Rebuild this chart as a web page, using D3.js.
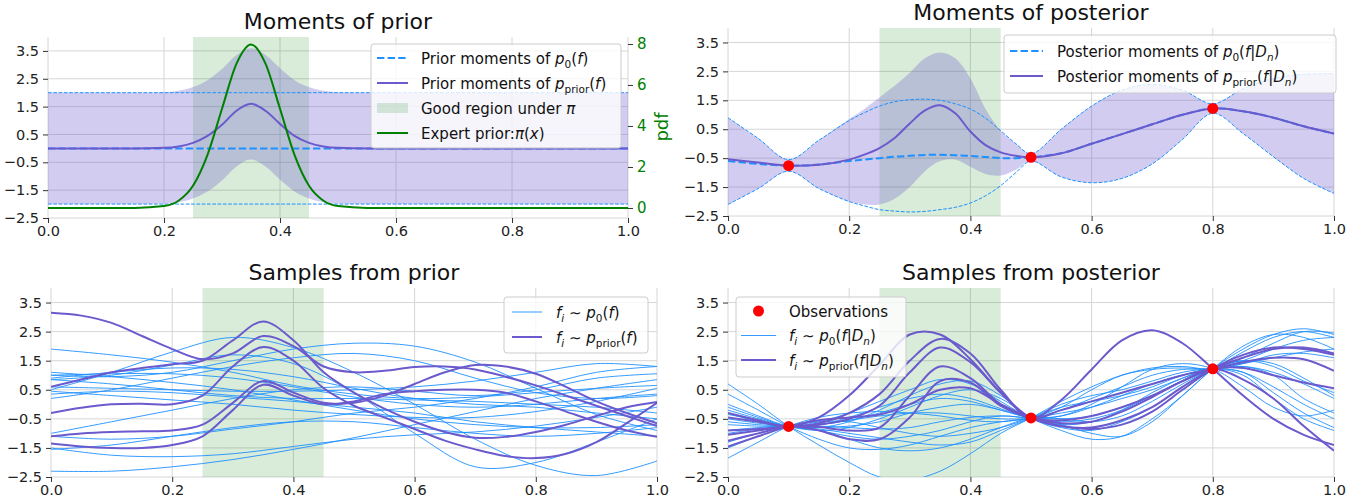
<!DOCTYPE html>
<html>
<head>
<meta charset="utf-8">
<script src="https://cdn.jsdelivr.net/npm/d3@7.9.0/dist/d3.min.js"></script>
<style>
  body { margin: 0; background: #fff; }
  svg { font-family: "DejaVu Sans", sans-serif; }
  text { white-space: pre; }
</style>
</head>
<body>
<svg id="chart" width="1349" height="499"></svg>
<script>
// ---- data ----
const xTicks = [0, 0.2, 0.4, 0.6, 0.8, 1.0];
const yTicks = [-2.5, -1.5, -0.5, 0.5, 1.5, 2.5, 3.5];
const pdfTicks = [0, 2, 4, 6, 8];
const goodRegion = [0.25, 0.45];
const obsX = [0.1, 0.5, 0.8];
const obsY = [-0.76, -0.47, 1.22];

// moments of prior
const p0X = [0, 1];
const p0Mean = [0, 0];
const p0Upper = [2, 2];
const p0Lower = [-2, -2];
const tlX = [0, 0.15, 0.2, 0.225, 0.25, 0.275, 0.3, 0.325, 0.35, 0.375, 0.4, 0.425, 0.45, 0.475, 0.5, 0.55, 1.0];
const priorMean  = [0, 0, 0.02, 0.07, 0.2, 0.45, 0.85, 1.35, 1.6, 1.35, 0.88, 0.45, 0.2, 0.07, 0.02, 0, 0];
const priorUpper = [2, 2, 2.02, 2.07, 2.2, 2.45, 2.85, 3.35, 3.6, 3.35, 2.88, 2.45, 2.2, 2.07, 2.02, 2, 2];
const priorLower = [-2, -2, -1.98, -1.93, -1.8, -1.55, -1.15, -0.65, -0.4, -0.65, -1.12, -1.55, -1.8, -1.93, -1.98, -2, -2];
const expertPdf  = [0, 0.003, 0.09, 0.35, 1.08, 2.59, 4.84, 7.04, 7.98, 7.04, 4.84, 2.59, 1.08, 0.35, 0.09, 0.003, 0];

// moments of posterior
const trX = [0, 0.05, 0.1, 0.15, 0.2, 0.225, 0.25, 0.275, 0.3, 0.325, 0.35, 0.375, 0.4, 0.425, 0.45, 0.475, 0.5, 0.55, 0.6, 0.65, 0.7, 0.75, 0.8, 0.85, 0.9, 0.95, 1.0];
const postMean0  = [-0.6, -0.7, -0.76, -0.72, -0.6, -0.55, -0.5, -0.45, -0.42, -0.39, -0.38, -0.4, -0.42, -0.46, -0.5, -0.5, -0.47, -0.33, 0.0, 0.33, 0.67, 1.0, 1.22, 1.12, 0.9, 0.6, 0.35];
const postUpper0 = [0.9, 0.18, -0.55, 0.12, 0.8, 1.07, 1.3, 1.45, 1.52, 1.54, 1.5, 1.38, 1.2, 0.88, 0.45, 0.0, -0.35, 0.5, 1.3, 1.85, 2.05, 1.85, 1.38, 1.9, 2.25, 2.4, 2.42];
const postLower0 = [-2.1, -1.55, -0.95, -1.55, -2.0, -2.15, -2.28, -2.33, -2.36, -2.34, -2.28, -2.2, -2.05, -1.8, -1.45, -1.0, -0.6, -1.15, -1.35, -1.2, -0.7, 0.15, 1.05, 0.35, -0.45, -1.2, -1.72];
const postMeanP  = [-0.54, -0.65, -0.76, -0.73, -0.55, -0.38, -0.15, 0.2, 0.7, 1.15, 1.33, 1.05, 0.42, -0.05, -0.3, -0.42, -0.47, -0.33, 0.0, 0.33, 0.67, 1.0, 1.22, 1.12, 0.9, 0.6, 0.35];
const postUpperP = [0.9, 0.18, -0.55, 0.12, 0.85, 1.2, 1.6, 2.0, 2.45, 2.95, 3.15, 2.95, 2.25, 1.2, 0.45, 0.0, -0.35, 0.5, 1.3, 1.85, 2.05, 1.85, 1.38, 1.9, 2.25, 2.4, 2.42];
const postLowerP = [-2.1, -1.55, -0.95, -1.55, -2.0, -2.1, -2.1, -1.9, -1.5, -0.95, -0.6, -0.55, -0.8, -1.05, -1.1, -0.9, -0.6, -1.15, -1.35, -1.2, -0.7, 0.15, 1.05, 0.35, -0.45, -1.2, -1.72];

// samples from prior
const xs10 = [0, 0.1, 0.2, 0.3, 0.4, 0.5, 0.6, 0.7, 0.8, 0.9, 1.0];
const xs20 = [0, 0.05, 0.1, 0.15, 0.2, 0.25, 0.3, 0.35, 0.4, 0.45, 0.5, 0.55, 0.6, 0.65, 0.7, 0.75, 0.8, 0.85, 0.9, 0.95, 1.0];
const priorSamples0 = [
  [1.9, 1.7, 1.45, 1.1, 0.65, 0.35, 0.2, 0.25, 0.4, 0.55, 0.65],
  [-2.3, -2.3, -2.15, -1.9, -1.55, -1.15, -0.7, -0.25, 0.2, 0.55, 0.85],
  [-1.5, -1.75, -1.8, -1.7, -1.45, -1.2, -1.05, -0.95, -0.75, -0.45, -0.1],
  [1.0, 0.95, 1.1, 1.5, 1.9, 2.1, 2.0, 1.45, 0.55, -0.35, -0.9],
  [0.5, 1.1, 1.8, 2.3, 1.95, 1.1, 0.0, -1.2, -2.1, -2.45, -1.95],
  [0.85, 1.0, 1.35, 1.7, 1.4, 0.4, -1.0, -2.15, -2.0, -1.3, -0.5],
  [0.2, 0.5, 0.9, 1.3, 1.6, 1.75, 1.5, 0.9, 0.4, 0.2, 0.3],
  [0.6, 0.55, 0.5, 0.45, 0.45, 0.5, 0.6, 0.8, 1.1, 1.4, 1.3],
  [-1.0, -0.6, -0.2, 0.2, 0.5, 0.6, 0.45, 0.3, 0.5, 0.9, 1.05],
  [-1.1, -1.2, -1.1, -0.85, -0.6, -0.3, -0.1, 0.2, 0.6, 1.1, 1.3],
  [0.85, 0.7, 0.5, 0.3, 0.2, 0.2, 0.15, 0.1, 0.0, -0.1, -0.3],
  [0.35, 0.45, 0.4, 0.25, 0.1, -0.1, -0.3, -0.6, -0.8, -0.95, -1.1],
  [1.1, 0.95, 0.75, 0.5, 0.15, -0.2, -0.5, -0.7, -0.8, -0.8, -0.7],
  [-1.55, -1.4, -1.1, -0.8, -0.6, -0.6, -0.8, -1.0, -1.1, -1.0, -0.8],
  [1.0, 1.05, 1.05, 0.9, 0.6, 0.25, 0.0, -0.1, 0.0, 0.2, 0.35],
  [0.45, 0.3, 0.15, 0.0, -0.2, -0.35, -0.45, -0.45, -0.25, 0.1, 0.55],
  [0.9, 1.1, 1.25, 1.2, 0.95, 0.55, 0.2, 0.0, -0.1, -0.3, -0.5]
];
const priorSamplesP = [
  [3.15, 3.05, 2.8, 2.35, 1.9, 1.55, 1.75, 2.35, 2.0, 1.3, 1.1, 1.15, 1.28, 1.3, 1.2, 0.95, 0.65, 0.3, -0.05, -0.4, -0.75],
  [0.6, 0.85, 1.1, 1.25, 1.38, 1.5, 2.2, 2.85, 2.2, 1.1, 0.4, -0.15, -0.6, -0.95, -1.15, -1.12, -0.95, -0.7, -0.4, -0.1, 0.08],
  [-0.3, -0.12, 0.0, 0.02, 0.0, 0.3, 1.3, 1.97, 1.5, 0.55, -0.05, -0.45, -0.85, -1.25, -1.55, -1.78, -1.85, -1.7, -1.3, -0.65, 0.05],
  [-1.1, -1.0, -0.95, -0.93, -0.9, -0.7, 0.05, 0.8, 0.4, 0.05, 0.05, 0.3, 0.7, 1.1, 1.35, 1.3, 1.05, 0.6, 0.1, -0.3, -0.65],
  [-1.35, -1.45, -1.5, -1.5, -1.4, -1.1, -0.2, 0.67, 0.3, 0.0, 0.1, 0.35, 0.45, 0.5, 0.5, 0.4, 0.1, -0.25, -0.6, -0.9, -1.12]
];

// samples from posterior
const postSamples0 = [
  [0.7, 0.0, -0.76, -1.4, -2.0, -2.5, -2.6, -2.3, -1.7, -1.0, -0.47, 0.1, 0.6, 1.0, 1.25, 1.3, 1.22, 1.6, 2.1, 2.5, 2.45],
  [0.0, -0.4, -0.76, -0.9, -0.8, -0.5, -0.1, 0.3, 0.5, 0.2, -0.47, -0.9, -1.2, -1.1, -0.5, 0.3, 1.22, 1.9, 2.4, 2.6, 2.4],
  [-0.1, -0.45, -0.76, -0.8, -0.6, -0.2, 0.3, 0.7, 0.8, 0.3, -0.47, -0.8, -0.9, -0.6, -0.1, 0.6, 1.22, 1.5, 1.4, 0.9, 0.3],
  [-0.2, -0.5, -0.76, -0.9, -1.1, -1.2, -1.1, -0.9, -0.6, -0.4, -0.47, -0.4, -0.1, 0.3, 0.7, 1.0, 1.22, 1.3, 1.0, 0.2, -0.3],
  [-0.35, -0.55, -0.76, -0.6, -0.3, 0.1, 0.5, 0.85, 0.7, 0.1, -0.47, -0.7, -0.6, -0.2, 0.4, 0.9, 1.22, 1.1, 0.6, 0.0, -0.5],
  [-0.5, -0.65, -0.76, -0.85, -1.0, -1.15, -1.3, -1.4, -1.3, -0.9, -0.47, 0.0, 0.3, 0.5, 0.8, 1.1, 1.22, 1.1, 0.4, -0.3, -0.8],
  [-0.7, -0.75, -0.76, -0.7, -0.55, -0.4, -0.3, -0.3, -0.4, -0.5, -0.47, -0.2, 0.2, 0.6, 1.0, 1.2, 1.22, 1.5, 1.9, 2.2, 2.3],
  [-1.0, -0.85, -0.76, -0.75, -0.8, -0.85, -0.8, -0.6, -0.45, -0.4, -0.47, -0.5, -0.4, -0.1, 0.3, 0.8, 1.22, 1.8, 2.3, 2.5, 2.3],
  [-1.3, -1.0, -0.76, -0.7, -0.55, -0.3, 0.0, 0.2, 0.1, -0.2, -0.47, -0.6, -0.5, -0.2, 0.3, 0.8, 1.22, 1.4, 1.6, 1.8, 1.9],
  [-1.5, -1.1, -0.76, -0.6, -0.6, -0.8, -1.0, -1.1, -1.0, -0.8, -0.47, -0.1, 0.1, 0.3, 0.6, 1.0, 1.22, 1.0, 0.2, -0.5, -0.9],
  [-1.85, -1.3, -0.76, -0.45, -0.3, -0.25, -0.3, -0.4, -0.55, -0.6, -0.47, -0.3, -0.1, 0.2, 0.5, 0.9, 1.22, 1.3, 1.1, 0.7, 0.2],
  [0.35, -0.2, -0.76, -1.2, -1.5, -1.55, -1.4, -1.1, -0.8, -0.6, -0.47, -0.1, 0.5, 1.0, 1.2, 1.25, 1.22, 1.4, 1.7, 1.75, 1.6],
  [-0.3, -0.6, -0.76, -0.7, -0.45, -0.1, 0.2, 0.35, 0.2, -0.15, -0.47, -0.4, 0.0, 0.6, 1.2, 1.4, 1.22, 0.6, -0.1, -0.4, -0.2],
  [-0.9, -0.8, -0.76, -0.9, -1.2, -1.5, -1.6, -1.5, -1.2, -0.8, -0.47, -0.5, -0.6, -0.4, 0.1, 0.7, 1.22, 1.5, 1.3, 0.8, 0.4],
  [-0.6, -0.7, -0.76, -0.8, -0.75, -0.6, -0.3, -0.1, 0.0, -0.2, -0.47, -0.7, -1.0, -1.1, -0.6, 0.3, 1.22, 2.0, 2.4, 2.3, 1.9]
];
const postSamplesP = [
  [-0.3, -0.55, -0.76, -0.45, 0.3, 1.35, 2.4, 2.4, 1.55, 0.4, -0.47, -0.75, -0.85, -0.7, -0.25, 0.5, 1.22, 1.7, 1.95, 1.9, 1.7],
  [-0.45, -0.6, -0.76, -0.65, -0.3, 0.35, 1.5, 2.25, 1.75, 0.5, -0.47, 0.15, 1.2, 2.2, 2.55, 2.1, 1.22, 0.3, -0.5, -1.05, -1.4],
  [-0.9, -0.85, -0.76, -0.7, -0.5, -0.05, 1.1, 1.95, 1.45, 0.4, -0.47, -0.2, 0.1, 0.4, 0.7, 1.0, 1.22, 1.45, 1.6, 1.55, 1.15],
  [-1.05, -0.9, -0.76, -0.78, -0.9, -0.8, 0.3, 1.3, 0.9, 0.0, -0.47, -0.55, -0.4, -0.1, 0.3, 0.8, 1.22, 1.25, 1.0, 0.75, 0.55],
  [-1.25, -1.0, -0.76, -0.9, -1.2, -1.2, -0.45, 0.8, 0.75, -0.05, -0.47, -0.65, -0.6, -0.25, 0.25, 0.8, 1.22, 0.85, 0.2, -0.75, -1.6],
  [-1.45, -1.1, -0.76, -0.55, -0.45, -0.35, 0.0, 0.5, 0.55, 0.0, -0.47, -0.75, -0.8, -0.55, -0.1, 0.6, 1.22, 1.6, 1.9, 1.95, 1.75]
];

// ---- drawing ----
const svg = d3.select('#chart');
const P0 = '#1e90ff', PRIOR = '#6a5acd', GREEN = '#008000';
const fmt = d3.format('.1f');

function styleAxis(a) {
  a.select('.domain').remove();
  a.attr('font-family', '"DejaVu Sans", sans-serif').attr('font-size', 14.5);
  a.selectAll('.tick line').attr('stroke', '#333');
  a.selectAll('.tick text').attr('fill', '#222');
}

function panel(id, box, title) {
  const x = d3.scaleLinear().domain([0, 1]).range([box.left, box.right]);
  const y = d3.scaleLinear().domain([-2.5, 4]).range([box.bottom, box.top]);
  const g = svg.append('g');
  g.append('clipPath').attr('id', id).append('rect')
    .attr('x', box.left).attr('y', box.top)
    .attr('width', box.right - box.left).attr('height', box.bottom - box.top);

  const grid = g.append('g').attr('stroke', '#d6d6d6').attr('stroke-width', 1);
  grid.selectAll('.gx').data(xTicks).join('line').attr('class', 'gx')
    .attr('x1', d => x(d)).attr('x2', d => x(d)).attr('y1', box.top).attr('y2', box.bottom);
  grid.selectAll('.gy').data(yTicks).join('line').attr('class', 'gy')
    .attr('y1', d => y(d)).attr('y2', d => y(d)).attr('x1', box.left).attr('x2', box.right);

  g.append('g').attr('transform', `translate(0,${box.bottom})`)
    .call(d3.axisBottom(x).tickValues(xTicks).tickFormat(fmt).tickSize(5).tickPadding(3))
    .call(styleAxis);
  g.append('g').attr('transform', `translate(${box.left},0)`)
    .call(d3.axisLeft(y).tickValues(yTicks).tickFormat(fmt).tickSize(5).tickPadding(4))
    .call(styleAxis);

  g.append('text').attr('x', (box.left + box.right) / 2).attr('y', box.top - 8)
    .attr('text-anchor', 'middle').attr('font-size', 22).attr('fill', '#111').text(title);

  const plot = g.append('g').attr('clip-path', `url(#${id})`);
  plot.append('rect')
    .attr('x', x(goodRegion[0])).attr('width', x(goodRegion[1]) - x(goodRegion[0]))
    .attr('y', box.top).attr('height', box.bottom - box.top)
    .attr('fill', GREEN).attr('fill-opacity', 0.15);
  return { x, y, g, plot };
}

const lineOf = (p, xs, curve) => d3.line()
  .x((d, i) => p.x(xs[i])).y(d => p.y(d)).curve(curve || d3.curveCatmullRom);
const bandOf = (p, xs, lower, curve) => d3.area()
  .x((d, i) => p.x(xs[i])).y0((d, i) => p.y(lower[i])).y1(d => p.y(d)).curve(curve || d3.curveCatmullRom);

function mathText(sel, x, y, parts, size) {
  const t = sel.append('text').attr('x', x).attr('y', y).attr('font-size', size).attr('fill', '#111');
  let shift = 0;
  parts.forEach(([s, k]) => {
    const sub = k.startsWith('sub');
    const target = sub ? 4 : 0;
    const sp = t.append('tspan').text(s).attr('dy', target - shift);
    shift = target;
    if (k.includes('i')) sp.attr('font-style', 'italic');
    if (sub) sp.attr('font-size', size * 0.7);
  });
}

function legend(g, box, rows) {
  g.append('rect').attr('x', box.x).attr('y', box.y).attr('width', box.w).attr('height', box.h)
    .attr('rx', 3).attr('fill', '#fff').attr('fill-opacity', 0.8).attr('stroke', '#cccccc');
  rows.forEach((r, i) => {
    const cy = box.y + box.first + i * box.step;
    const h0 = box.x + box.hx, h1 = h0 + box.hw;
    if (r.kind === 'rect') {
      g.append('rect').attr('x', h0).attr('y', cy - 5).attr('width', box.hw).attr('height', 10)
        .attr('fill', GREEN).attr('fill-opacity', 0.15);
    } else if (r.kind === 'dot') {
      g.append('circle').attr('cx', (h0 + h1) / 2).attr('cy', cy).attr('r', 5.5).attr('fill', 'red');
    } else {
      g.append('line').attr('x1', h0).attr('x2', h1).attr('y1', cy).attr('y2', cy)
        .attr('stroke', r.color).attr('stroke-width', r.width)
        .attr('stroke-dasharray', r.dash || null);
    }
    mathText(g, box.x + box.tx, cy + 5.5, r.label, 15);
  });
}

// panel 1: moments of prior
const A = panel('clipA', { left: 48, right: 628, top: 37, bottom: 218 }, 'Moments of prior');
A.plot.append('path').datum(priorUpper).attr('d', bandOf(A, tlX, priorLower, d3.curveMonotoneX))
  .attr('fill', PRIOR).attr('fill-opacity', 0.3);
[p0Upper, p0Lower].forEach(s => A.plot.append('path').datum(s).attr('d', lineOf(A, p0X, d3.curveLinear))
  .attr('fill', 'none').attr('stroke', P0).attr('stroke-width', 1).attr('stroke-dasharray', '3.7,1.6'));
A.plot.append('path').datum(p0Mean).attr('d', lineOf(A, p0X, d3.curveLinear))
  .attr('fill', 'none').attr('stroke', P0).attr('stroke-width', 2).attr('stroke-dasharray', '7.4,3.2');
A.plot.append('path').datum(priorMean).attr('d', lineOf(A, tlX, d3.curveMonotoneX))
  .attr('fill', 'none').attr('stroke', PRIOR).attr('stroke-width', 2);
const yPdf = d3.scaleLinear().domain([-0.49, 8.34]).range([218, 37]);
A.plot.append('path').datum(expertPdf)
  .attr('d', d3.line().x((d, i) => A.x(tlX[i])).y(d => yPdf(d)).curve(d3.curveMonotoneX))
  .attr('fill', 'none').attr('stroke', GREEN).attr('stroke-width', 2);
A.g.append('g').attr('transform', 'translate(628,0)')
  .call(d3.axisRight(yPdf).tickValues(pdfTicks).tickFormat(d3.format('d')).tickSize(5).tickPadding(4))
  .call(styleAxis).call(a => a.selectAll('.tick text').attr('fill', GREEN).attr('font-size', 15));
A.g.append('text').attr('transform', 'translate(668,127) rotate(-90)').attr('text-anchor', 'middle')
  .attr('font-size', 18).attr('fill', GREEN).text('pdf');

// panel 2: moments of posterior
const B = panel('clipB', { left: 728, right: 1334, top: 28, bottom: 216 }, 'Moments of posterior');
B.plot.append('path').datum(postUpperP).attr('d', bandOf(B, trX, postLowerP))
  .attr('fill', PRIOR).attr('fill-opacity', 0.3);
[postUpper0, postLower0].forEach(s => B.plot.append('path').datum(s).attr('d', lineOf(B, trX))
  .attr('fill', 'none').attr('stroke', P0).attr('stroke-width', 1).attr('stroke-dasharray', '3.7,1.6'));
B.plot.append('path').datum(postMean0).attr('d', lineOf(B, trX))
  .attr('fill', 'none').attr('stroke', P0).attr('stroke-width', 2).attr('stroke-dasharray', '7.4,3.2');
B.plot.append('path').datum(postMeanP).attr('d', lineOf(B, trX))
  .attr('fill', 'none').attr('stroke', PRIOR).attr('stroke-width', 2);
B.plot.selectAll('.obs').data(obsX).join('circle').attr('class', 'obs')
  .attr('cx', d => B.x(d)).attr('cy', (d, i) => B.y(obsY[i])).attr('r', 5.5).attr('fill', 'red');

// panel 3: samples from prior
const C = panel('clipC', { left: 51, right: 657, top: 288, bottom: 477 }, 'Samples from prior');
priorSamples0.forEach(s => C.plot.append('path').datum(s).attr('d', lineOf(C, xs10))
  .attr('fill', 'none').attr('stroke', P0).attr('stroke-width', 0.9));
priorSamplesP.forEach(s => C.plot.append('path').datum(s).attr('d', lineOf(C, xs20))
  .attr('fill', 'none').attr('stroke', PRIOR).attr('stroke-width', 2));

// panel 4: samples from posterior
const D = panel('clipD', { left: 728, right: 1334, top: 288, bottom: 477 }, 'Samples from posterior');
postSamples0.forEach(s => D.plot.append('path').datum(s).attr('d', lineOf(D, xs20))
  .attr('fill', 'none').attr('stroke', P0).attr('stroke-width', 0.9));
postSamplesP.forEach(s => D.plot.append('path').datum(s).attr('d', lineOf(D, xs20))
  .attr('fill', 'none').attr('stroke', PRIOR).attr('stroke-width', 2));
D.plot.selectAll('.obs').data(obsX).join('circle').attr('class', 'obs')
  .attr('cx', d => D.x(d)).attr('cy', (d, i) => D.y(obsY[i])).attr('r', 5.5).attr('fill', 'red');

// legends
const p0f = [['p', 'i'], ['0', 'sub'], ['(', 'n'], ['f', 'i'], [')', 'n']];
const ppf = [['p', 'i'], ['prior', 'sub'], ['(', 'n'], ['f', 'i'], [')', 'n']];
const p0fD = [['p', 'i'], ['0', 'sub'], ['(', 'n'], ['f', 'i'], ['|', 'n'], ['D', 'i'], ['n', 'subi'], [')', 'n']];
const ppfD = [['p', 'i'], ['prior', 'sub'], ['(', 'n'], ['f', 'i'], ['|', 'n'], ['D', 'i'], ['n', 'subi'], [')', 'n']];
const fi = [['f', 'i'], ['i', 'subi'], [' \u223C ', 'n']];

legend(A.g, { x: 371, y: 44, w: 250, h: 104, first: 14, step: 25, hx: 6, hw: 31, tx: 50 }, [
  { color: P0, width: 2, dash: '7.4,3.2', label: [['Prior moments of ', 'n'], ...p0f] },
  { color: PRIOR, width: 2, label: [['Prior moments of ', 'n'], ...ppf] },
  { kind: 'rect', label: [['Good region under ', 'n'], ['\u03C0', 'i']] },
  { color: GREEN, width: 2, label: [['Expert prior:', 'n'], ['\u03C0', 'i'], ['(', 'n'], ['x', 'i'], [')', 'n']] }
]);
legend(B.g, { x: 1004, y: 35, w: 332, h: 58, first: 16, step: 25, hx: 6, hw: 33, tx: 53 }, [
  { color: P0, width: 2, dash: '7.4,3.2', label: [['Posterior moments of ', 'n'], ...p0fD] },
  { color: PRIOR, width: 2, label: [['Posterior moments of ', 'n'], ...ppfD] }
]);
legend(C.g, { x: 504, y: 297, w: 144, h: 56, first: 15, step: 25, hx: 8, hw: 30, tx: 52 }, [
  { color: P0, width: 0.9, label: [...fi, ...p0f] },
  { color: PRIOR, width: 2, label: [...fi, ...ppf] }
]);
legend(D.g, { x: 736, y: 297, w: 170, h: 80, first: 14, step: 24.5, hx: 5, hw: 35, tx: 53 }, [
  { kind: 'dot', label: [['Observations', 'n']] },
  { color: P0, width: 0.9, label: [...fi, ...p0fD] },
  { color: PRIOR, width: 2, label: [...fi, ...ppfD] }
]);
</script>
</body>
</html>
